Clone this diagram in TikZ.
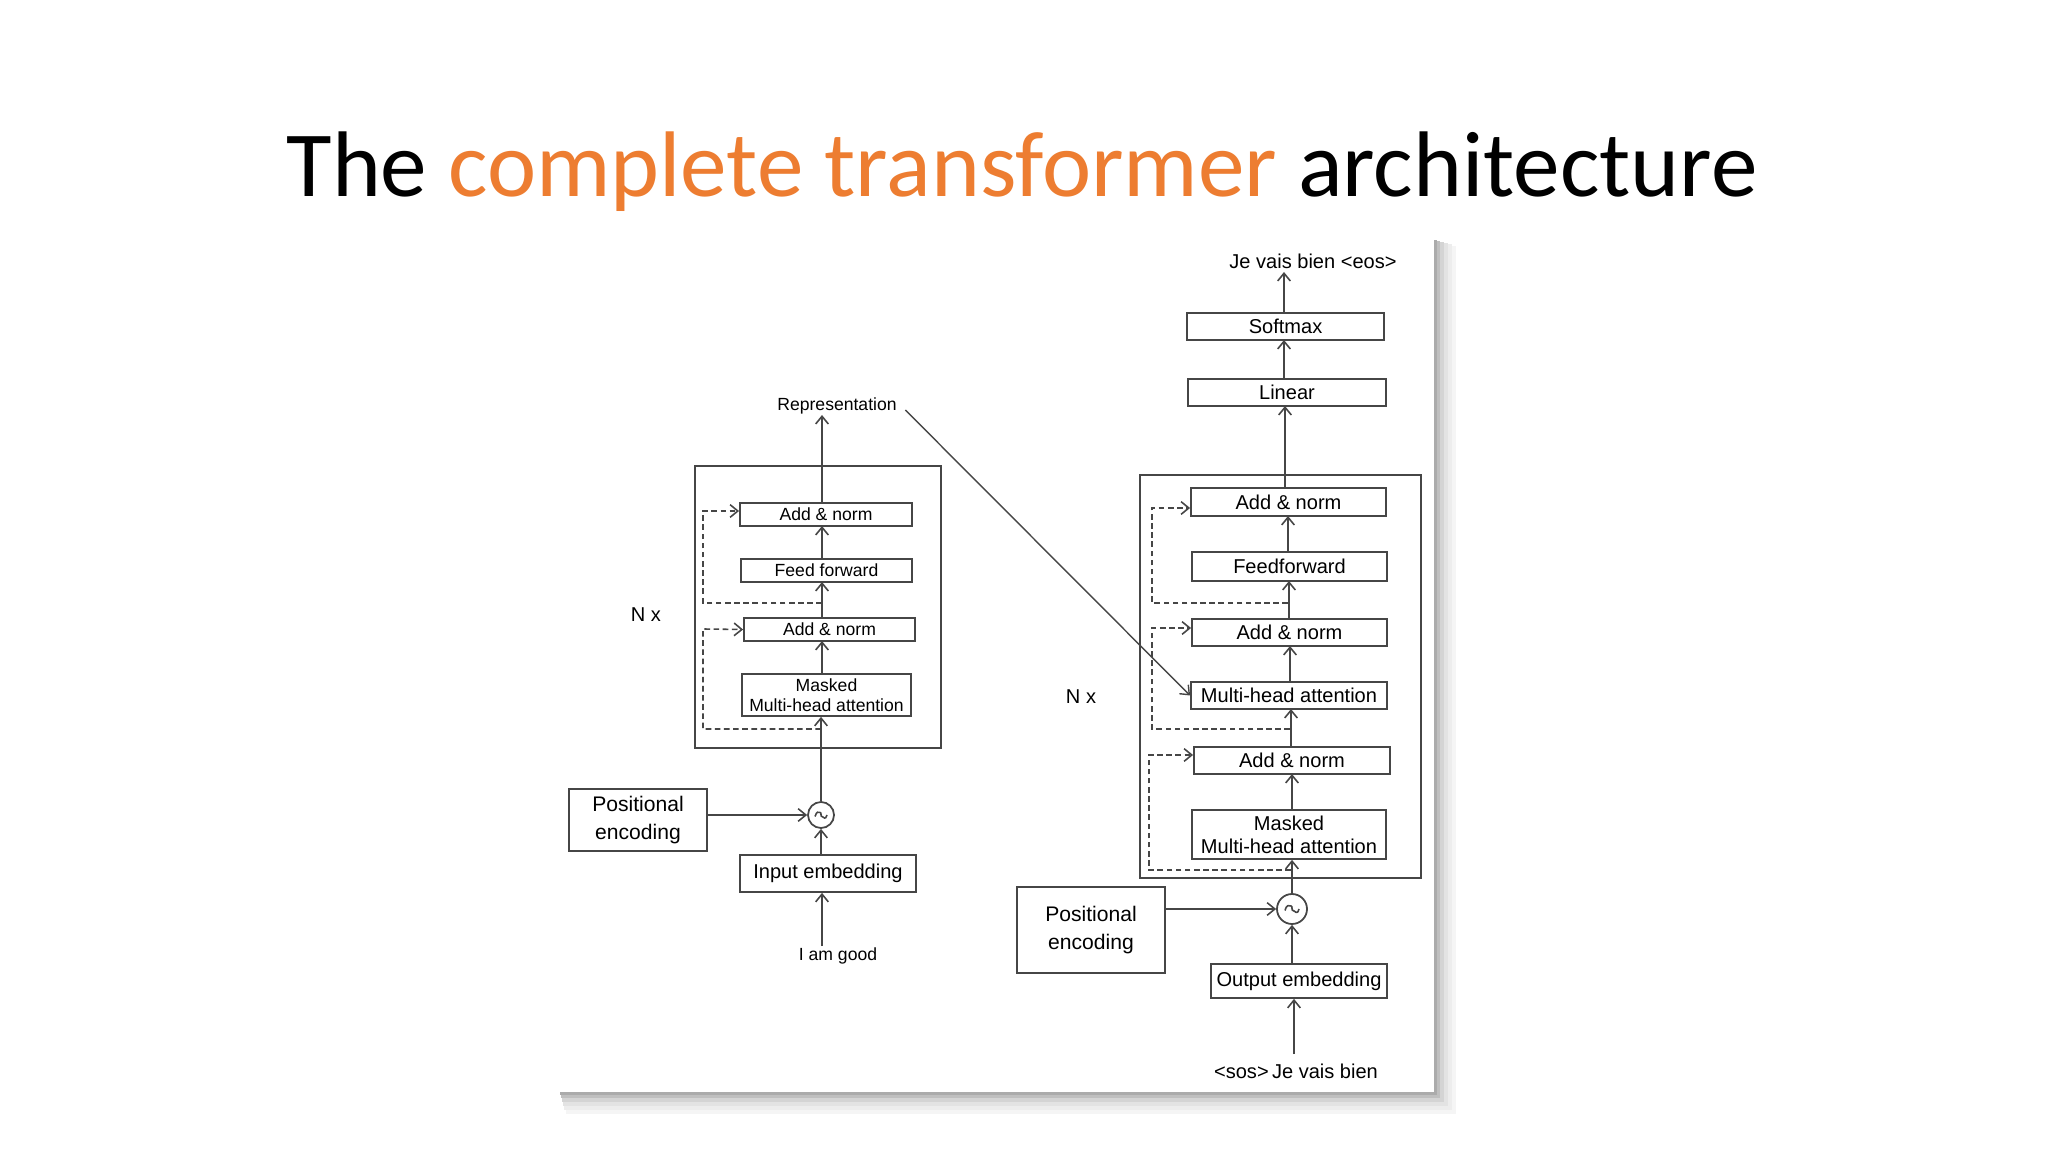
\documentclass[tikz,border=0pt]{standalone}
\usepackage{fontspec}
\setmainfont{Liberation Sans}
\newfontfamily\titlefont{Carlito}
\usetikzlibrary{arrows.meta}
\definecolor{ttlorange}{RGB}{237,125,49}
\definecolor{ln}{RGB}{70,70,70}
\tikzset{
  blk/.style={draw=ln, line width=0.5pt, inner sep=0pt, align=center, font=\fontsize{5.7}{6.6}\selectfont},
  peblk/.style={blk, font=\fontsize{6}{8.2}\selectfont},
  sblk/.style={blk, font=\fontsize{5}{5.8}\selectfont},
  lbl/.style={inner sep=0pt, font=\fontsize{5.7}{6.6}\selectfont},
  slbl/.style={inner sep=0pt, font=\fontsize{5}{6}\selectfont},
  arr/.style={draw=ln, line width=0.45pt, -{Straight Barb[length=2.2pt,width=3.6pt]}},
  darr/.style={arr, dashed, dash pattern=on 1.6pt off 1pt},
  frame/.style={draw=ln, line width=0.5pt}
}
\begin{document}
\begin{tikzpicture}[x=0.01cm,y=-0.01cm]
\useasboundingbox (0,0) rectangle (2048,1152);
\fill[white] (0,0) rectangle (2048,1152);
% title
\node[inner sep=0pt, font=\titlefont\fontsize{26.5}{32}\selectfont] (title) at (1022,172)
  {The \textcolor{ttlorange}{complete transformer} architecture};
% panel with shadow
\foreach \o/\g in {22/4,18/7,14/11,10/17,6/25,3/33}{
  \fill[black!\g] (559+\o*0.3,239+\o*0.3) rectangle (1434+\o,1092+\o);}
\fill[white] (559,239) rectangle (1434,1092);

% ---------- encoder ----------
\draw[frame] (695,466) rectangle (941,748);
\node[sblk, minimum width=1.72cm, minimum height=0.23cm] (eA1) at (826,514.5) {Add \& norm};
\node[sblk, minimum width=1.71cm, minimum height=0.23cm] (eFF) at (826.5,570.5) {Feed forward};
\node[sblk, minimum width=1.71cm, minimum height=0.23cm] (eA2) at (829.5,629.5) {Add \& norm};
\node[sblk, minimum width=1.69cm, minimum height=0.42cm] (eM) at (826.5,695) {Masked\\Multi-head attention};
\node[draw=ln, line width=0.5pt, circle, minimum size=0.26cm, inner sep=0pt] (eC) at (821,815) {};
\draw[ln, line width=0.45pt] (eC.center) ++(-6,1.5) .. controls ++(2,-6) and ++(-2,0) .. ++(5,-4) .. controls ++(2,0) and ++(-2,0) .. ++(2,4) .. controls ++(2,0) and ++(-2,6) .. ++(5,-1.5);
\node[peblk, minimum width=1.38cm, minimum height=0.62cm] (ePE) at (638,820) {Positional\\encoding};
\node[blk, minimum width=1.76cm, minimum height=0.37cm] (eIE) at (828,873.5) {Input embedding};
\node[slbl] (eRep) at (837,406) {Representation};
\node[slbl] (eIn) at (838,956) {I am good};
\node[lbl] (eN) at (646,615) {N x};
\coordinate (eInTop) at (822,946);
\draw[arr] (eInTop) -- (eInTop |- eIE.south);
\draw[arr] (eC |- eIE.north) -- (eC.south);
\draw[arr] (ePE.east |- eC) -- (eC.west);
\draw[arr] (eC.north) -- (eC |- eM.south);
\draw[arr] (822,674) -- (822,641);
\draw[arr] (822,618) -- (822,582);
\draw[arr] (822,559) -- (822,526);
\draw[arr] (822,503) -- (822,415);
\coordinate (ed1) at (821,729);
\coordinate (ed2) at (822,603);
\draw[darr] (ed1) -- (703,729) -- (703,629) -- (eA2.west);
\draw[darr] (ed2) -- (703,603) -- (703,511) -- (eA1.west |- 0,511);

% ---------- decoder ----------
\draw[frame] (1140,475) rectangle (1421,878);
\node[blk, minimum width=1.97cm, minimum height=0.27cm] (dS) at (1285.5,326.5) {Softmax};
\node[blk, minimum width=1.98cm, minimum height=0.27cm] (dL) at (1287,392.5) {Linear};
\node[blk, minimum width=1.95cm, minimum height=0.28cm] (dA1) at (1288.5,502) {Add \& norm};
\node[blk, minimum width=1.95cm, minimum height=0.29cm] (dFF) at (1289.5,566.5) {Feedforward};
\node[blk, minimum width=1.95cm, minimum height=0.27cm] (dA2) at (1289.5,632.5) {Add \& norm};
\node[blk, minimum width=1.96cm, minimum height=0.27cm] (dMH) at (1289,695.5) {Multi-head attention};
\node[blk, minimum width=1.96cm, minimum height=0.27cm] (dA3) at (1292,760.5) {Add \& norm};
\node[blk, minimum width=1.94cm, minimum height=0.49cm] (dM) at (1289,834.5) {Masked\\Multi-head attention};
\node[draw=ln, line width=0.5pt, circle, minimum size=0.30cm, inner sep=0pt] (dC) at (1292,909) {};
\draw[ln, line width=0.45pt] (dC.center) ++(-7,1.5) .. controls ++(2,-7) and ++(-2,0) .. ++(6,-4.5) .. controls ++(2,0) and ++(-2,0) .. ++(2,4.5) .. controls ++(2,0) and ++(-2,7) .. ++(6,-1.5);
\node[peblk, minimum width=1.48cm, minimum height=0.86cm] (dPE) at (1091,930) {Positional\\encoding};
\node[blk, minimum width=1.76cm, minimum height=0.34cm] (dOE) at (1299,981) {Output embedding};
\node[lbl] (dIn) at (1296,1071) {<sos>\,Je vais bien};
\node[lbl] (dOut) at (1313,261) {Je vais bien <eos>};
\node[lbl] (dN) at (1081,697) {N x};
\coordinate (dInTop) at (1294,1054);
\draw[arr] (dInTop) -- (dInTop |- dOE.south);
\draw[arr] (dC |- dOE.north) -- (dC.south);
\draw[arr] (dPE.east |- dC) -- (dC.west);
\draw[arr] (dC.north) -- (dC |- dM.south);
\draw[arr] (1292,810) -- (1292,774);
\draw[arr] (1291,747) -- (1291,709);
\draw[arr] (1290,682) -- (1290,646);
\draw[arr] (1289,619) -- (1289,581);
\draw[arr] (1288,552) -- (1288,516);
\draw[arr] (1285,488) -- (1285,406);
\draw[arr] (1284,379) -- (1284,340);
\draw[arr] (1284,313) -- (1284,272);
\coordinate (dd1) at (1291,870);
\coordinate (dd2) at (1290,729);
\coordinate (dd3) at (1288,603);
\draw[darr] (dd1) -- (1149,870) -- (1149,755) -- (dA3.west |- 0,755);
\draw[darr] (dd2) -- (1152,729) -- (1152,628) -- (dA2.west |- 0,628);
\draw[darr] (dd3) -- (1152,603) -- (1152,508) -- (dA1.west |- 0,508);

% representation to decoder
\draw[arr, line width=0.4pt] (eRep.east) ++(8,4) -- (dMH.west);
\end{tikzpicture}
\end{document}
